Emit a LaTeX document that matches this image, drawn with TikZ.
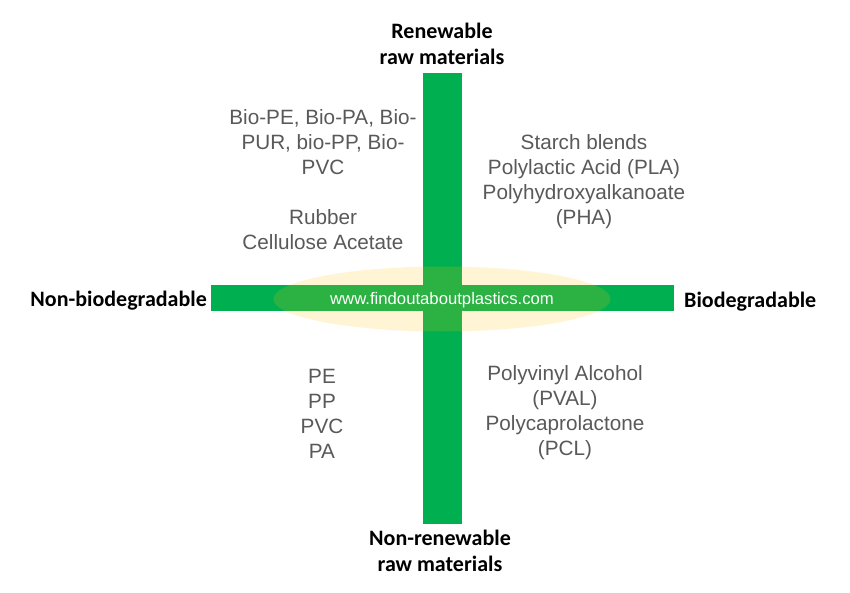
\documentclass[tikz,border=0pt]{standalone}
\usepackage{fontspec}
\setmainfont{Liberation Sans}
\newfontfamily\headfont{Carlito}
\usetikzlibrary{shapes.geometric}
\definecolor{bargreen}{RGB}{0,176,80}
\definecolor{glow}{RGB}{255,192,0}
\definecolor{txtgray}{RGB}{89,89,89}
\begin{document}
\begin{tikzpicture}[x=1pt,y=-1pt,
  bar/.style={fill=bargreen,draw=none},
  head/.style={inner sep=0pt,align=center,font=\headfont\bfseries\fontsize{22}{25.5}\selectfont,text=black},
  body/.style={inner sep=0pt,align=center,font=\fontsize{20.7}{25}\selectfont,text=txtgray}]
\useasboundingbox (0,0) rectangle (850,593);
\fill[white] (0,0) rectangle (850,593);
% bars
\path[bar] (211,285) rectangle (674,311);
\path[bar] (423,73) rectangle (462,524);
% ellipse glow
\node[ellipse,minimum width=337pt,minimum height=65pt,inner sep=0pt,fill=glow,fill opacity=0.17,draw=none] (glowell) at (442,299) {};
\node[inner sep=0pt,text=white,font=\fontsize{16.7}{20}\selectfont] (url) at (442,300) {www.findoutaboutplastics.com};
% axis labels
\node[head] (ren) at (442,44) {Renewable\\raw materials};
\node[head] (nonren) at (440,551) {Non-renewable\\raw materials};
\node[head,anchor=east] (nonbio) at (207,301) {Non-biodegradable};
\node[head,anchor=west] (bio) at (684,302) {Biodegradable};
% quadrant texts
\node[body] (tl) at (323,179.5) {Bio-PE, Bio-PA, Bio-\\PUR, bio-PP, Bio-\\PVC\\[25pt]Rubber\\Cellulose Acetate};
\node[body] (tr) at (584,182) {Starch blends\\Polylactic Acid (PLA)\\Polyhydroxyalkanoate\\(PHA)};
\node[body] (br) at (565,412.5) {Polyvinyl Alcohol\\(PVAL)\\Polycaprolactone\\(PCL)};
\node[body] (bl) at (322,414) {PE\\PP\\PVC\\PA};
\end{tikzpicture}
\end{document}
